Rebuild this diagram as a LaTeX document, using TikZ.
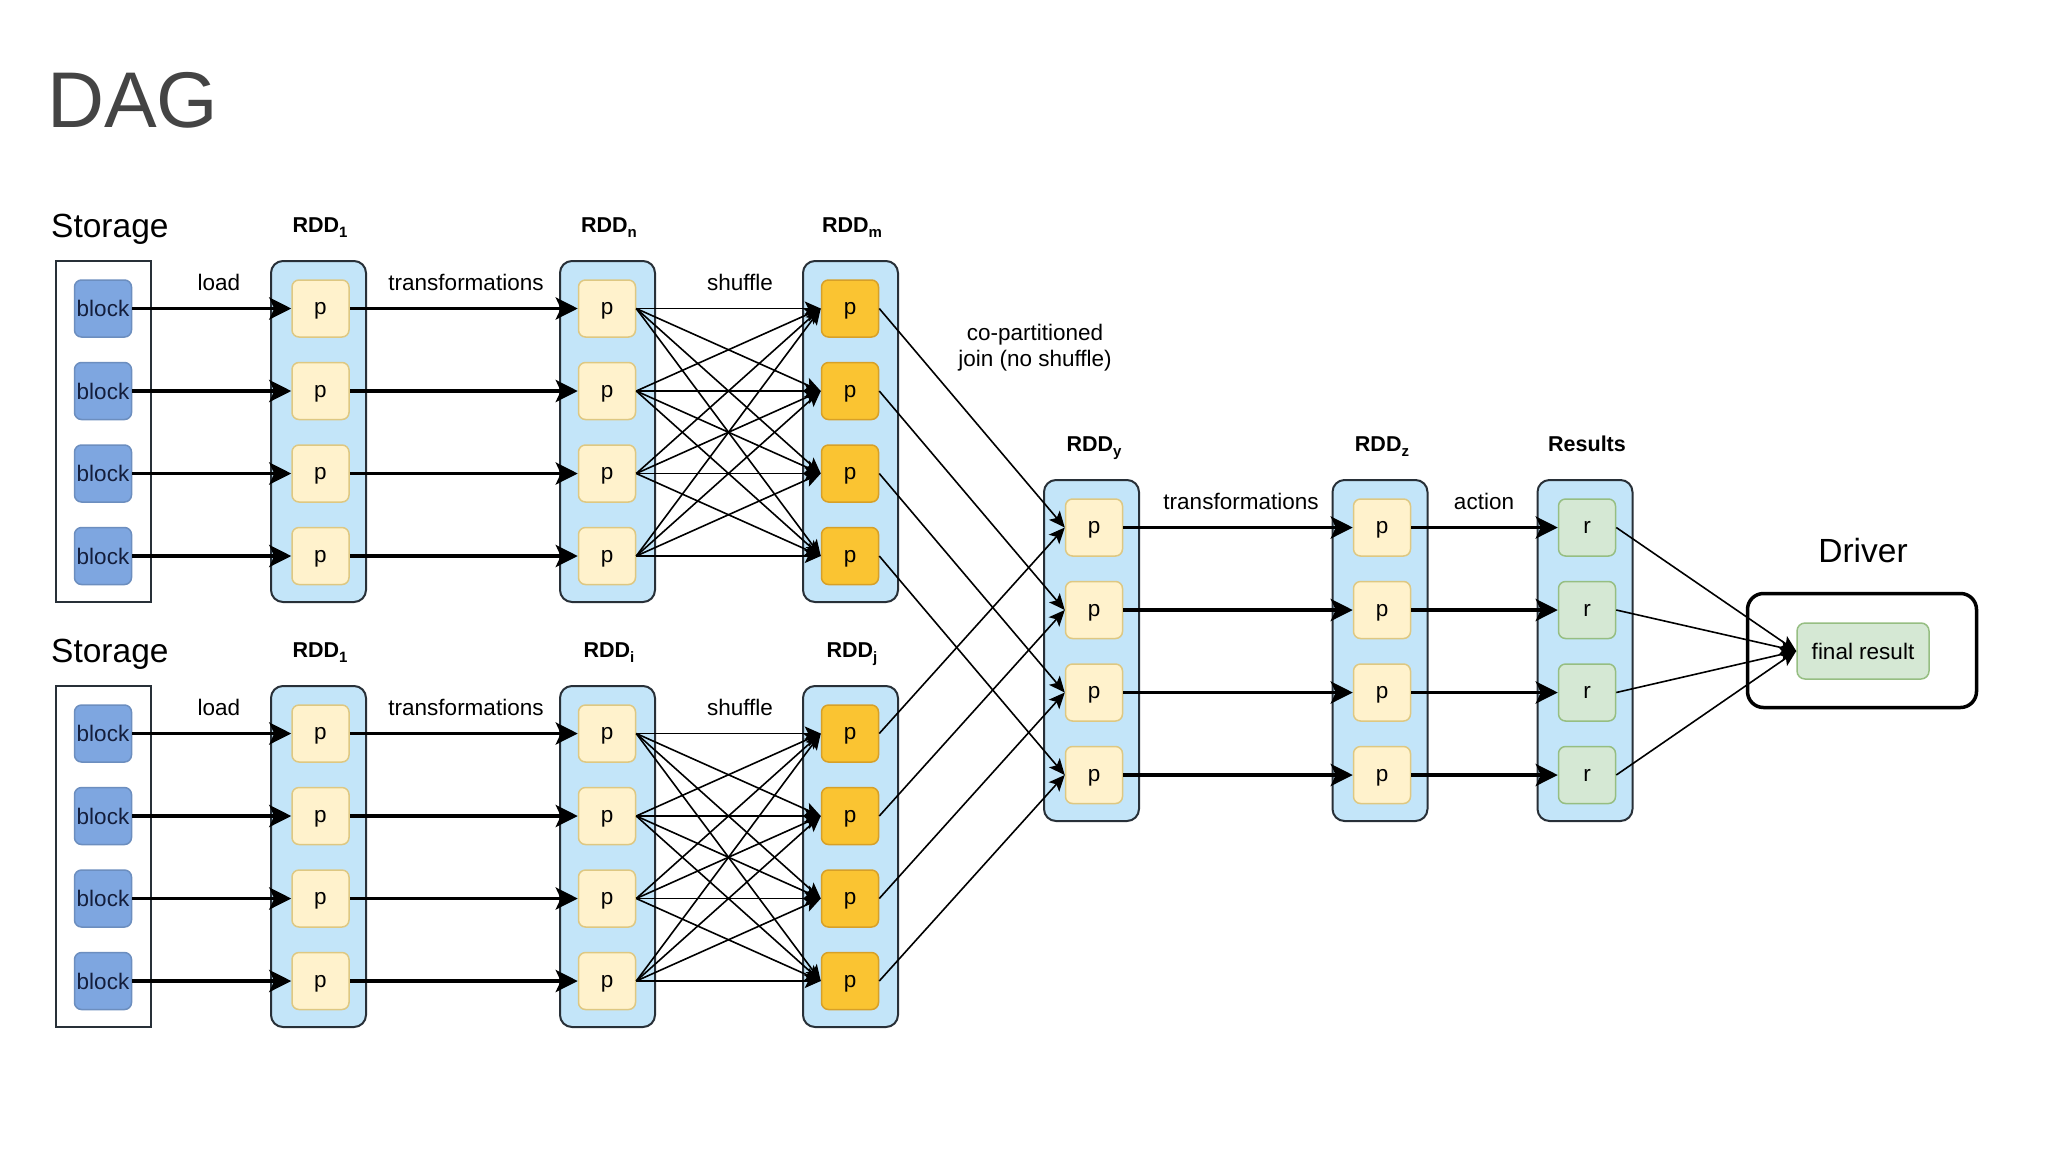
\documentclass[tikz,border=0pt]{standalone}
\usepackage{fontspec}
\setmainfont{Liberation Sans}
\usetikzlibrary{arrows.meta}
\definecolor{contfill}{RGB}{195,229,249}
\definecolor{contline}{RGB}{40,48,56}
\definecolor{pfill}{RGB}{255,242,204}
\definecolor{pline}{RGB}{222,200,130}
\definecolor{ofill}{RGB}{250,196,50}
\definecolor{oline}{RGB}{215,160,40}
\definecolor{bfill}{RGB}{126,166,224}
\definecolor{bline}{RGB}{108,142,191}
\definecolor{rfill}{RGB}{213,232,212}
\definecolor{rline}{RGB}{150,190,130}
\definecolor{titlegray}{RGB}{68,68,68}
\definecolor{blktext}{RGB}{20,30,60}
\newcommand{\mysub}[1]{\raisebox{-5pt}{\fontsize{15}{15}\selectfont #1}}
\begin{document}
\begin{tikzpicture}[x=1pt,y=-1pt,
  txt/.style={font=\fontsize{22.5}{26}\selectfont, inner sep=0pt},
  hdr/.style={font=\fontsize{21.5}{24}\selectfont\bfseries, inner sep=0pt, anchor=base},
  big/.style={font=\fontsize{33.5}{36}\selectfont, inner sep=0pt, anchor=base west},
  cont/.style={draw=contline, fill=contfill, line width=2pt, rounded corners=12pt,
    minimum width=95pt, minimum height=341pt, inner sep=0pt},
  storebox/.style={draw=contline, fill=white, line width=2pt,
    minimum width=95pt, minimum height=341pt, inner sep=0pt},
  cell/.style={rounded corners=7pt, line width=1.5pt, minimum width=57pt,
    minimum height=57pt, inner sep=0pt, font=\fontsize{22.5}{26}\selectfont},
  lowtext/.style={text height=17pt, text depth=4.7pt},
  pnode/.style={cell, lowtext, draw=pline, fill=pfill},
  onode/.style={cell, lowtext, draw=oline, fill=ofill},
  bnode/.style={cell, draw=bline, fill=bfill, text=blktext},
  rnode/.style={cell, lowtext, draw=rline, fill=rfill},
  thickarrow/.style={line width=3.5pt, -{Stealth[length=22pt,width=22pt,inset=5pt]}},
  thinarrow/.style={line width=1.6pt, -{Stealth[length=16pt,width=14pt,inset=3.5pt]}}
]
\useasboundingbox (0,0) rectangle (2048,1152);
\fill[white] (0,0) rectangle (2048,1152);

% title
\node[font=\fontsize{79}{82}\selectfont, text=titlegray, inner sep=0pt, anchor=base west] (title) at (47,127) {DAG};

% two upper/lower sections
\foreach \s/\dy/\na/\nb in {a/0/n/m, b/425/i/j} {
  \node[big] (stor-\s) at (51,237+\dy) {Storage};
  \node[hdr] (h1-\s) at (320,232+\dy) {RDD\mysub{1}};
  \node[hdr] (h2-\s) at (609,232+\dy) {RDD\mysub{\na}};
  \node[hdr] (h3-\s) at (852,232+\dy) {RDD\mysub{\nb}};
  \node[txt] (lload-\s) at (219,282+\dy) {load};
  \node[txt] (ltr-\s) at (466,282+\dy) {transformations};
  \node[txt] (lsh-\s) at (740,282+\dy) {shuffle};
  \node[storebox] (sb-\s) at (103.5,431.5+\dy) {};
  \node[cont] (c1-\s) at (318.5,431.5+\dy) {};
  \node[cont] (c2-\s) at (607.5,431.5+\dy) {};
  \node[cont] (c3-\s) at (850.5,431.5+\dy) {};
  \foreach \i/\y in {1/308.5,2/391,3/473.5,4/556} {
    \node[bnode] (blk-\s-\i) at (103,\y+\dy) {block};
    \node[pnode] (p1-\s-\i) at (320.5,\y+\dy) {p};
    \node[pnode] (pn-\s-\i) at (607,\y+\dy) {p};
    \node[onode] (pm-\s-\i) at (850,\y+\dy) {p};
  }
}

% right part
\node[hdr] (hy) at (1094,451) {RDD\mysub{y}};
\node[hdr] (hz) at (1382,451) {RDD\mysub{z}};
\node[hdr] (hr) at (1587,451) {Results};
\node[cont] (cy) at (1091.5,650.5) {};
\node[cont] (cz) at (1380,650.5) {};
\node[cont] (cr) at (1585,650.5) {};
\foreach \i/\y in {1/527.5,2/610,3/692.5,4/775} {
  \node[pnode] (py-\i) at (1094,\y) {p};
  \node[pnode] (pz-\i) at (1382,\y) {p};
  \node[rnode] (r-\i) at (1587,\y) {r};
}
\node[txt] (ltr-c) at (1241,501) {transformations};
\node[txt] (lact) at (1484,501) {action};
\node[txt, align=center] (lcop) at (1035,348) {co-partitioned\\join (no shuffle)};

% driver
\node[font=\fontsize{33.5}{36}\selectfont, inner sep=0pt, anchor=base] (hdrv) at (1863,562) {Driver};
\node[draw=black, line width=3.5pt, rounded corners=16pt, minimum width=229pt,
  minimum height=114pt, inner sep=0pt] (drv) at (1862,650.5) {};
\node[draw=rline, fill=rfill, line width=1.5pt, rounded corners=8pt,
  minimum width=132pt, minimum height=56pt, inner sep=0pt,
  font=\fontsize{22.5}{26}\selectfont] (fin) at (1863,651) {final result};

% connectors
\foreach \s in {a,b} {
  \foreach \i in {1,...,4} {
    \draw[thickarrow] (blk-\s-\i.east) -- (p1-\s-\i.west);
    \draw[thickarrow] (p1-\s-\i.east) -- (pn-\s-\i.west);
    \foreach \j in {1,...,4} {
      \draw[thinarrow] (pn-\s-\i.east) -- (pm-\s-\j.west);
    }
    \draw[thinarrow] (pm-\s-\i.east) -- (py-\i.west);
  }
}
\foreach \i in {1,...,4} {
  \draw[thickarrow] (py-\i.east) -- (pz-\i.west);
  \draw[thickarrow] (pz-\i.east) -- (r-\i.west);
  \draw[thinarrow] (r-\i.east) -- (fin.west);
}
\end{tikzpicture}
\end{document}
